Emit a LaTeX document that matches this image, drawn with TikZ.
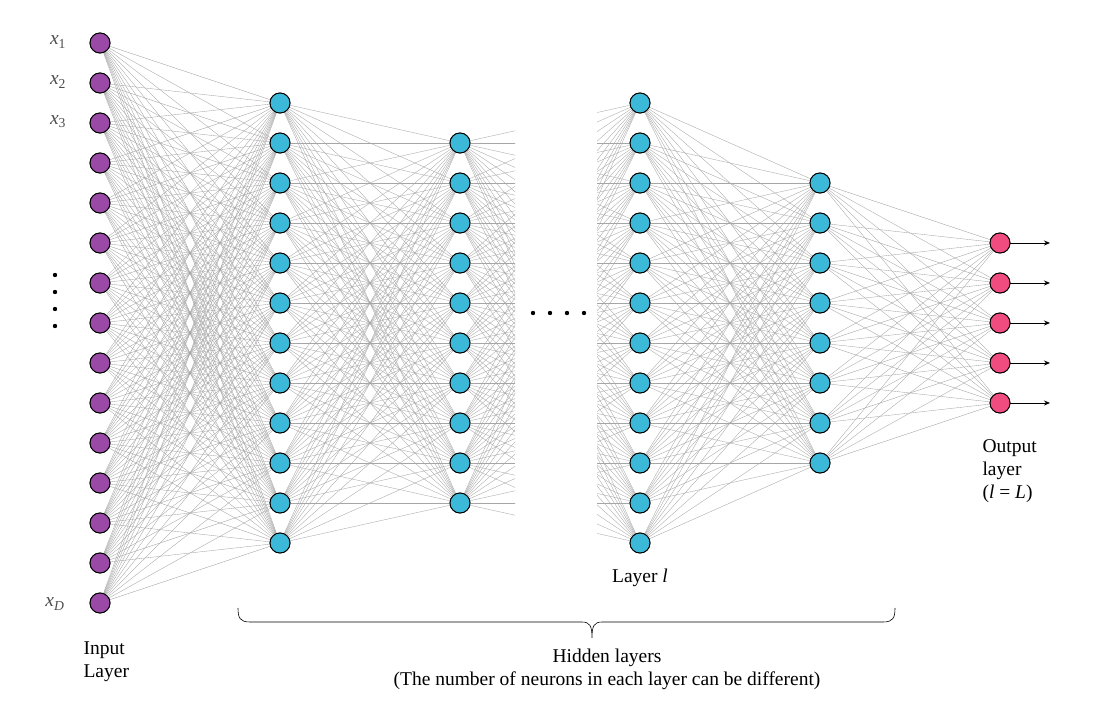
\documentclass[tikz,border=0pt]{standalone}
\usepackage{fontspec}
\setmainfont{Liberation Serif}
\usetikzlibrary{arrows.meta}
\definecolor{inp}{HTML}{9A4AA6}
\definecolor{hid}{HTML}{3CB9D9}
\definecolor{outc}{HTML}{F04C80}
\begin{document}
\begin{tikzpicture}[x=1pt,y=-1pt,
  neuron/.style={circle,draw=black,line width=0.9pt,minimum size=20pt,inner sep=0pt},
  conn/.style={draw=gray!70,line width=0.35pt},
  lbl/.style={font=\fontsize{19.5}{23}\selectfont,align=left}]
\useasboundingbox (0,0) rectangle (1098,714);
\foreach \i in {1,...,15} \node[neuron,fill=inp] (a\i) at (100,{43+40*(\i-1)}) {};
\foreach \i in {1,...,12} \node[neuron,fill=hid] (b\i) at (280,{103+40*(\i-1)}) {};
\foreach \i in {1,...,10} \node[neuron,fill=hid] (c\i) at (460,{143+40*(\i-1)}) {};
\foreach \i in {1,...,12} \node[neuron,fill=hid] (d\i) at (640,{103+40*(\i-1)}) {};
\foreach \i in {1,...,8} \node[neuron,fill=hid] (e\i) at (820,{183+40*(\i-1)}) {};
\foreach \i in {1,...,5} \node[neuron,fill=outc] (f\i) at (1000,{243+40*(\i-1)}) {};
\foreach \i in {1,...,12} \coordinate (vd\i) at (640,{103+40*(\i-1)});
\foreach \i in {1,...,10} \coordinate (vc\i) at (460,{143+40*(\i-1)});
\foreach \i in {1,...,15} \foreach \j in {1,...,12} \draw[conn] (a\i) -- (b\j);
\foreach \i in {1,...,12} \foreach \j in {1,...,10} \draw[conn] (b\i) -- (c\j);
\begin{scope}
\clip (460,0) rectangle (515,714);
\foreach \i in {1,...,10} \foreach \j in {1,...,12} \draw[conn] (c\i) -- (vd\j);
\end{scope}
\begin{scope}
\clip (597,0) rectangle (640,714);
\foreach \i in {1,...,10} \foreach \j in {1,...,12} \draw[conn] (vc\i) -- (d\j);
\end{scope}
\foreach \i in {1,...,12} \foreach \j in {1,...,8} \draw[conn] (d\i) -- (e\j);
\foreach \i in {1,...,8} \foreach \j in {1,...,5} \draw[conn] (e\i) -- (f\j);
\foreach \i in {1,...,15} \node[neuron,fill=inp] at (a\i) {};
\foreach \i in {1,...,12} \node[neuron,fill=hid] at (b\i) {};
\foreach \i in {1,...,10} \node[neuron,fill=hid] at (c\i) {};
\foreach \i in {1,...,12} \node[neuron,fill=hid] at (d\i) {};
\foreach \i in {1,...,8} \node[neuron,fill=hid] at (e\i) {};
\foreach \i in {1,...,5} \node[neuron,fill=outc] at (f\i) {};
\foreach \i in {1,...,5} {
  \coordinate (o\i) at (1050,{243+40*(\i-1)});
  \draw[-{Stealth[length=6pt,width=5pt]},line width=0.8pt] (f\i) -- (o\i);
}
\foreach \x in {533,550,567,584} \fill (\x,313) circle (2.2);
\foreach \y in {275,292,309,326} \fill (55,\y) circle (2.2);
\node[lbl,text=black!70] (l1) at (58,42) {\textit{x}\textsubscript{1}};
\node[lbl,text=black!70] (l2) at (58,82) {\textit{x}\textsubscript{2}};
\node[lbl,text=black!70] (l3) at (58,122) {\textit{x}\textsubscript{3}};
\node[lbl,text=black!70] (l4) at (55,604) {\textit{x}\textsubscript{\textit{D}}};
\node[lbl,anchor=north west] (inl) at (80,638) {Input\\Layer};
\node[lbl] (ll) at (640,578) {Layer \textit{l}};
\node[lbl,anchor=north west] (outl) at (979,436) {Output\\layer\\(\textit{l} = \textit{L})};
\coordinate (br1) at (238,608);
\coordinate (br2) at (895,608);
\coordinate (brt) at (592,638);
\draw[line width=0.6pt] (br1) .. controls (238,618) and (240,622) .. (250,622)
  -- (582,622) .. controls (590,622) and (592,626) .. (brt)
  .. controls (592,626) and (594,622) .. (602,622) -- (883,622)
  .. controls (893,622) and (895,618) .. (br2);
\node[lbl,align=center] (hl) at (607,669) {Hidden layers\\(The number of neurons in each layer can be different)};
\end{tikzpicture}
\end{document}
